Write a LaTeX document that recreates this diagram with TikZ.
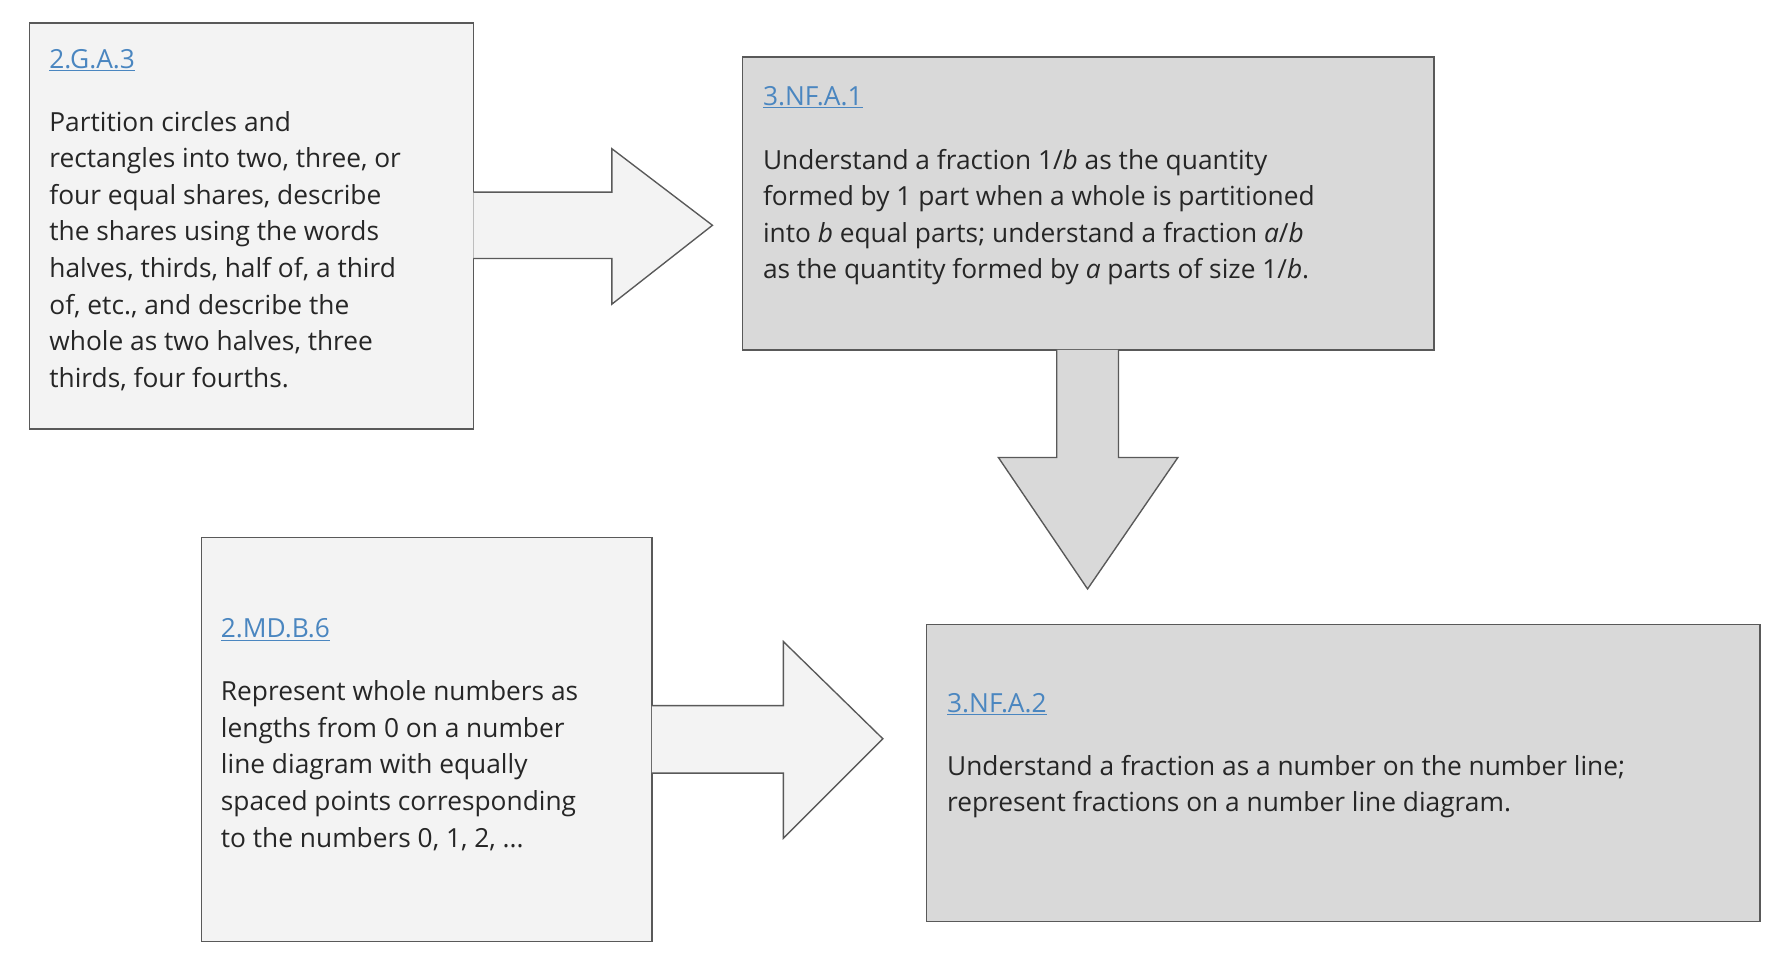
\documentclass[tikz,border=0pt]{standalone}
\usepackage{fontspec}
\setmainfont{Open Sans}
\definecolor{lite}{HTML}{F3F3F3}
\definecolor{dark}{HTML}{D9D9D9}
\definecolor{edge}{HTML}{595959}
\definecolor{link}{HTML}{4A86C0}
\begin{document}
\begin{tikzpicture}[x=1pt,y=-1pt,
  box/.style={draw=edge,line width=1.2pt},
  arr/.style={draw=edge,line width=1.2pt,line join=miter},
  txt/.style={anchor=north west,inner sep=0pt,align=left,font=\fontsize{23}{32}\selectfont,text=black!85},
  ttl/.style={anchor=north west,inner sep=0pt,font=\fontsize{23}{32}\selectfont,text=link}]
\useasboundingbox (0,0) rectangle (1560,846.5);
% boxes
\draw[box,fill=lite] (26,20) rectangle (414,375);
\draw[box,fill=dark] (649,50) rectangle (1254,306);
\draw[box,fill=lite] (176,470) rectangle (570,823);
\draw[box,fill=dark] (810,546) rectangle (1539,806);
% arrows
\draw[arr,fill=lite] (414,168) -- (535,168) -- (535,130) -- (623,197) -- (535,266) -- (535,226) -- (414,226);
\draw[arr,fill=dark] (924,306) -- (924,400) -- (873,400) -- (951,515) -- (1030,400) -- (978,400) -- (978,306);
\draw[arr,fill=lite] (570,617) -- (685,617) -- (685,561) -- (772,646) -- (685,733) -- (685,676) -- (570,676);
% texts
\node[ttl] (t1) at (43,43) {\underline{2.G.A.3}};
\node[txt] (b1) at (43,97) {Partition circles and\\rectangles into two, three, or\\four equal shares, describe\\the shares using the words\\halves, thirds, half of, a third\\of, etc., and describe the\\whole as two halves, three\\thirds, four fourths.};
\node[ttl] (t2) at (667,75) {\underline{3.NF.A.1}};
\node[txt] (b2) at (667,130) {Understand a fraction 1/\textit{b} as the quantity\\formed by 1 part when a whole is partitioned\\into \textit{b} equal parts; understand a fraction \textit{a}/\textit{b}\\as the quantity formed by \textit{a} parts of size 1/\textit{b}.};
\node[ttl] (t3) at (193,541) {\underline{2.MD.B.6}};
\node[txt] (b3) at (193,595) {Represent whole numbers as\\lengths from 0 on a number\\line diagram with equally\\spaced points corresponding\\to the numbers 0, 1, 2, ...};
\node[ttl] (t4) at (828,606) {\underline{3.NF.A.2}};
\node[txt] (b4) at (828,660) {Understand a fraction as a number on the number line;\\represent fractions on a number line diagram.};
\end{tikzpicture}
\end{document}
